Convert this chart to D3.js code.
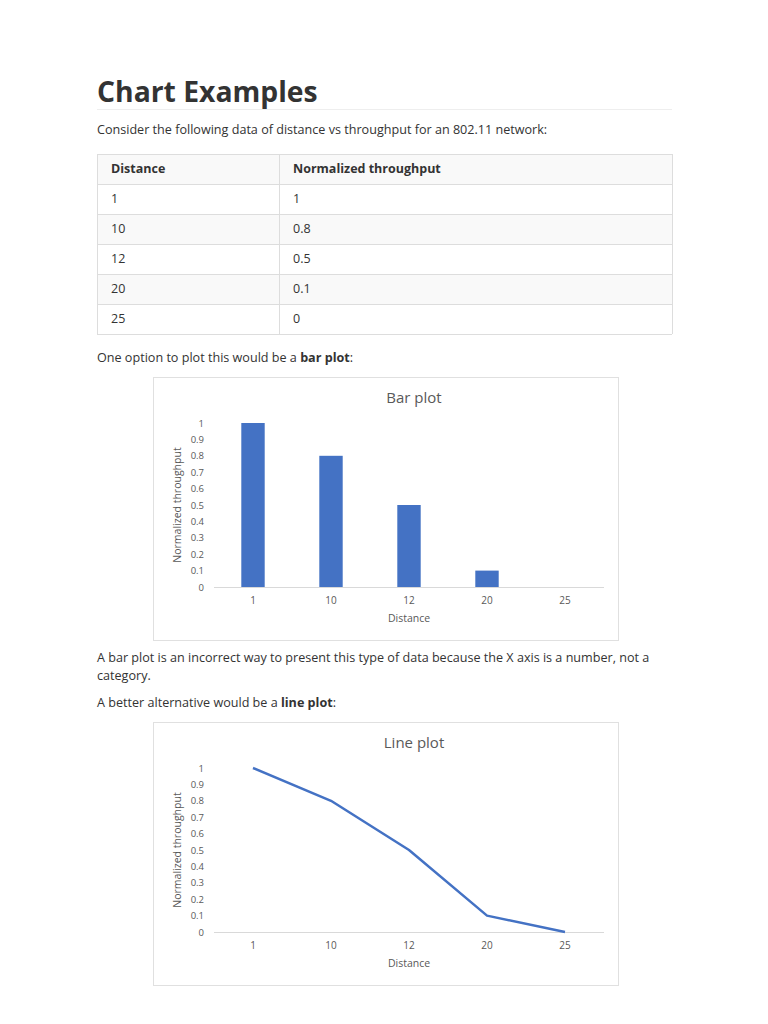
<!DOCTYPE html>
<html>
<head>
<meta charset="utf-8">
<script src="https://cdn.jsdelivr.net/npm/d3@7"></script>
<style>
  body { margin: 0; background: #fff; }
  svg text { font-family: "Open Sans", sans-serif; }
</style>
</head>
<body>
<svg id="page"></svg>
<script>
// data
const distances = ["1", "10", "12", "20", "25"];
const throughput = [1, 0.8, 0.5, 0.1, 0];
const yTicks = [0, 0.1, 0.2, 0.3, 0.4, 0.5, 0.6, 0.7, 0.8, 0.9, 1];
const tableHeader = ["Distance", "Normalized throughput"];

const W = 768, H = 1024;
const svg = d3.select("#page").attr("width", W).attr("height", H);

const textColor = "#333";
const barColor = "#4472C4";

// --- heading + intro ---
svg.append("text")
  .attr("x", 97).attr("y", 102)
  .style("font-size", "28.3px").style("font-weight", "bold")
  .style("fill", textColor)
  .text("Chart Examples");

svg.append("line")
  .attr("x1", 97).attr("x2", 672).attr("y1", 109.5).attr("y2", 109.5)
  .attr("stroke", "#eee");

const para = (y, parts) => {
  const t = svg.append("text").attr("x", 97).attr("y", y)
    .style("font-size", "12.6px").style("fill", textColor);
  parts.forEach(p => {
    t.append("tspan").style("font-weight", p.b ? "bold" : "normal").text(p.t);
  });
};

para(134, [{ t: "Consider the following data of distance vs throughput for an 802.11 network:" }]);

// --- table ---
const tableX = 97, tableW = 575, colSplit = 279, rowH = 30, tableY = 154;
const rows = [tableHeader].concat(distances.map((d, i) => [d, String(throughput[i])]));

const tbl = svg.append("g");
rows.forEach((r, i) => {
  const y = tableY + i * rowH;
  tbl.append("rect")
    .attr("x", tableX).attr("y", y).attr("width", tableW).attr("height", rowH)
    .attr("fill", i % 2 === 0 ? "#f9f9f9" : "#fff");
  [tableX, colSplit].forEach((cx, j) => {
    tbl.append("text")
      .attr("x", cx + 14).attr("y", y + 19)
      .style("font-size", "12.5px")
      .style("font-weight", i === 0 ? "bold" : "normal")
      .style("fill", textColor)
      .text(r[j]);
  });
});
// grid lines
const tableBottom = tableY + rows.length * rowH;
d3.range(rows.length + 1).forEach(i => {
  tbl.append("line")
    .attr("x1", tableX).attr("x2", tableX + tableW)
    .attr("y1", tableY + i * rowH + 0.5).attr("y2", tableY + i * rowH + 0.5)
    .attr("stroke", "#ddd");
});
[tableX, colSplit, tableX + tableW].forEach(x => {
  tbl.append("line")
    .attr("x1", x + 0.5).attr("x2", x + 0.5)
    .attr("y1", tableY).attr("y2", tableBottom)
    .attr("stroke", "#ddd");
});

para(362, [{ t: "One option to plot this would be a " }, { t: "bar plot", b: true }, { t: ":" }]);

// --- chart helper (Excel-ish look) ---
function chartFrame(top, title) {
  const g = svg.append("g");
  g.append("rect")
    .attr("x", 153.5).attr("y", top + 0.5).attr("width", 465).attr("height", 263)
    .attr("fill", "#fff").attr("stroke", "#e0e0e0");

  const x = d3.scaleBand().domain(distances).range([214, 604]).paddingInner(0.7).paddingOuter(0.35);
  const y = d3.scaleLinear().domain([0, 1]).range([top + 210, top + 46]);

  g.append("text")
    .attr("x", 414).attr("y", top + 26)
    .attr("text-anchor", "middle")
    .style("font-size", "15px").style("fill", "#595959")
    .text(title);

  const yAxis = g.append("g")
    .attr("transform", "translate(214,0)")
    .call(d3.axisLeft(y).tickValues(yTicks).tickSize(0).tickPadding(10).tickFormat(d3.format("~g")));
  yAxis.select(".domain").remove();
  yAxis.selectAll("text").style("font-size", "9.5px").style("fill", "#595959").style("font-family", "Open Sans, sans-serif");

  const xAxis = g.append("g")
    .attr("transform", `translate(0,${top + 210})`)
    .call(d3.axisBottom(x).tickSize(0).tickPadding(10));
  xAxis.select(".domain").attr("stroke", "#d9d9d9").attr("d", "M214,0.5H604");
  xAxis.selectAll("text").style("font-size", "10px").style("fill", "#595959").style("font-family", "Open Sans, sans-serif");

  g.append("text")
    .attr("x", 409).attr("y", top + 245)
    .attr("text-anchor", "middle")
    .style("font-size", "10.5px").style("fill", "#595959")
    .text("Distance");

  g.append("text")
    .attr("transform", `translate(181,${top + 128}) rotate(-90)`)
    .attr("text-anchor", "middle")
    .style("font-size", "10.5px").style("fill", "#595959")
    .text("Normalized throughput");

  return { g, x, y };
}

// --- bar plot ---
const bar = chartFrame(377, "Bar plot");
bar.g.append("g").selectAll("rect")
  .data(distances)
  .join("rect")
  .attr("x", d => bar.x(d))
  .attr("width", bar.x.bandwidth())
  .attr("y", (d, i) => bar.y(throughput[i]))
  .attr("height", (d, i) => bar.y(0) - bar.y(throughput[i]))
  .attr("fill", barColor);

para(662, [{ t: "A bar plot is an incorrect way to present this type of data because the X axis is a number, not a" }]);
para(680, [{ t: "category." }]);
para(707, [{ t: "A better alternative would be a " }, { t: "line plot", b: true }, { t: ":" }]);

// --- line plot ---
const lp = chartFrame(722, "Line plot");
const line = d3.line()
  .x(d => lp.x(d.k) + lp.x.bandwidth() / 2)
  .y(d => lp.y(d.v));
lp.g.append("path")
  .datum(distances.map((k, i) => ({ k, v: throughput[i] })))
  .attr("d", line)
  .attr("fill", "none")
  .attr("stroke", barColor)
  .attr("stroke-width", 2.5)
  .attr("stroke-linejoin", "round");
</script>
</body>
</html>
